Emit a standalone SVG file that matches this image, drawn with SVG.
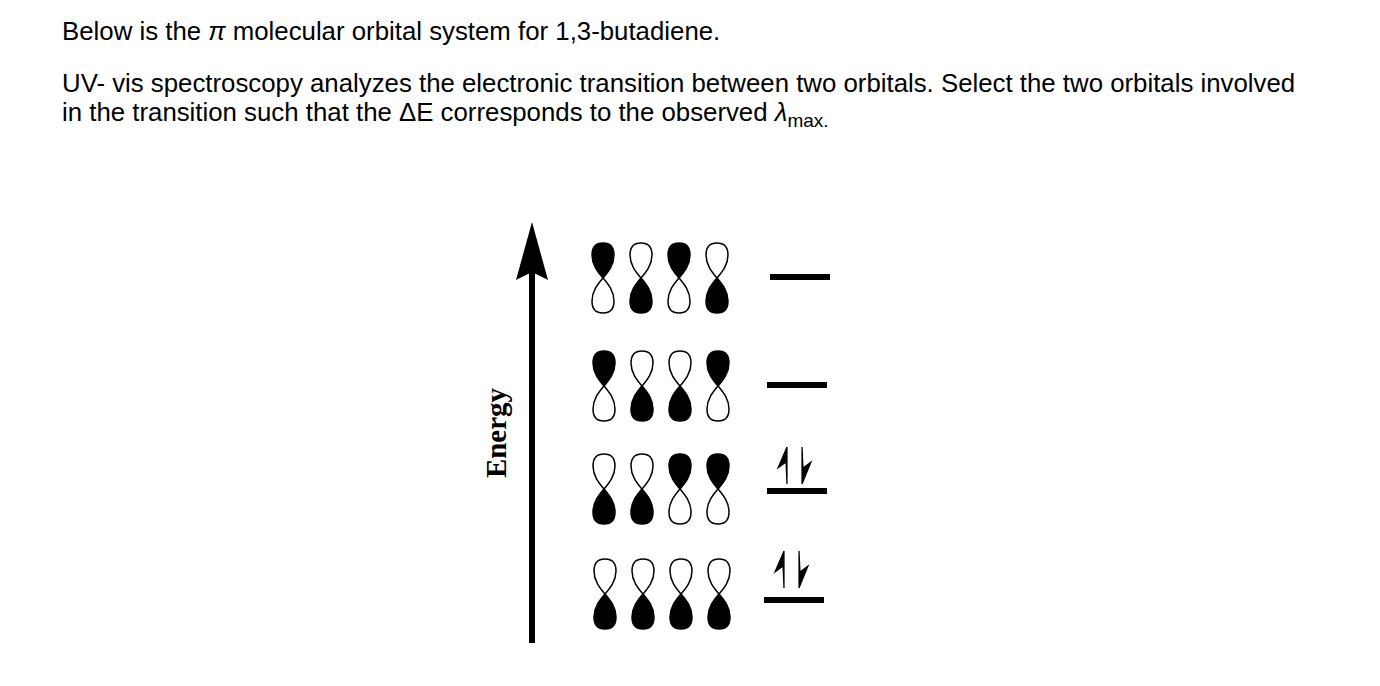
<svg xmlns="http://www.w3.org/2000/svg" xmlns:xlink="http://www.w3.org/1999/xlink" width="1380" height="686" viewBox="0 0 1380 686">
<style>
.t{font-family:"Liberation Sans",Arial,sans-serif;font-size:25.8px;fill:#000}
.f{fill:#000;stroke:#000;stroke-width:1.5}
.o{fill:#fff;stroke:#000;stroke-width:1.5}
.lv{stroke:#000;stroke-width:6}
.e{fill:#000;stroke:#000;stroke-width:1.2}
</style>
<defs>
<path id="lobe" d="M0,0 C-5,-6 -11,-13 -11,-23 C-11,-31 -7,-35 0,-35 C7,-35 11,-31 11,-23 C11,-13 5,-6 0,0 Z"/>
<g id="up"><use href="#lobe" class="f"/><use href="#lobe" class="o" transform="scale(1,-1)"/></g>
<g id="dn"><use href="#lobe" class="o"/><use href="#lobe" class="f" transform="scale(1,-1)"/></g>
<g id="pair"><path d="M-2,0 V-37 L-11,-16 L-3,-22 Z" class="e"/><path d="M13,-37 V0 L22,-22 L14,-16 Z" class="e"/></g>
</defs>
<rect width="1380" height="686" fill="#fff"/>
<text class="t" x="62" y="40">Below is the <tspan font-style="italic">π</tspan> molecular orbital system for 1,3-butadiene.</text>
<text class="t" x="62" y="92">UV- vis spectroscopy analyzes the electronic transition between two orbitals. Select the two orbitals involved</text>
<text class="t" x="62" y="121">in the transition such that the ΔE corresponds to the observed <tspan font-style="italic">λ</tspan><tspan font-size="19" dy="6">max.</tspan></text>
<g id="axis">
<line x1="532" y1="643" x2="532" y2="270" stroke="#000" stroke-width="6"/>
<path d="M532,222 L516,280 L532,272 L548,280 Z" fill="#000"/>
<text x="506" y="433" transform="rotate(-90 506 433)" text-anchor="middle" font-family="'Liberation Serif',serif" font-weight="bold" font-size="29">Energy</text>
</g>
<g id="psi4">
<use href="#up" x="603" y="278"/><use href="#dn" x="641" y="278"/><use href="#up" x="679" y="278"/><use href="#dn" x="717" y="278"/>
<line class="lv" x1="770" y1="277" x2="830" y2="277"/>
</g>
<g id="psi3">
<use href="#up" x="604" y="386"/><use href="#dn" x="642" y="386"/><use href="#dn" x="680" y="386"/><use href="#up" x="718" y="386"/>
<line class="lv" x1="767" y1="385" x2="827" y2="385"/>
</g>
<g id="psi2">
<use href="#dn" x="604" y="489"/><use href="#dn" x="642" y="489"/><use href="#up" x="680" y="489"/><use href="#up" x="718" y="489"/>
<line class="lv" x1="767" y1="491" x2="827" y2="491"/>
<use href="#pair" x="789" y="484"/>
</g>
<g id="psi1">
<use href="#dn" x="605" y="594"/><use href="#dn" x="643" y="594"/><use href="#dn" x="681" y="594"/><use href="#dn" x="719" y="594"/>
<line class="lv" x1="764" y1="600" x2="824" y2="600"/>
<use href="#pair" x="786" y="588"/>
</g>
<g id="connectors"/>
</svg>
